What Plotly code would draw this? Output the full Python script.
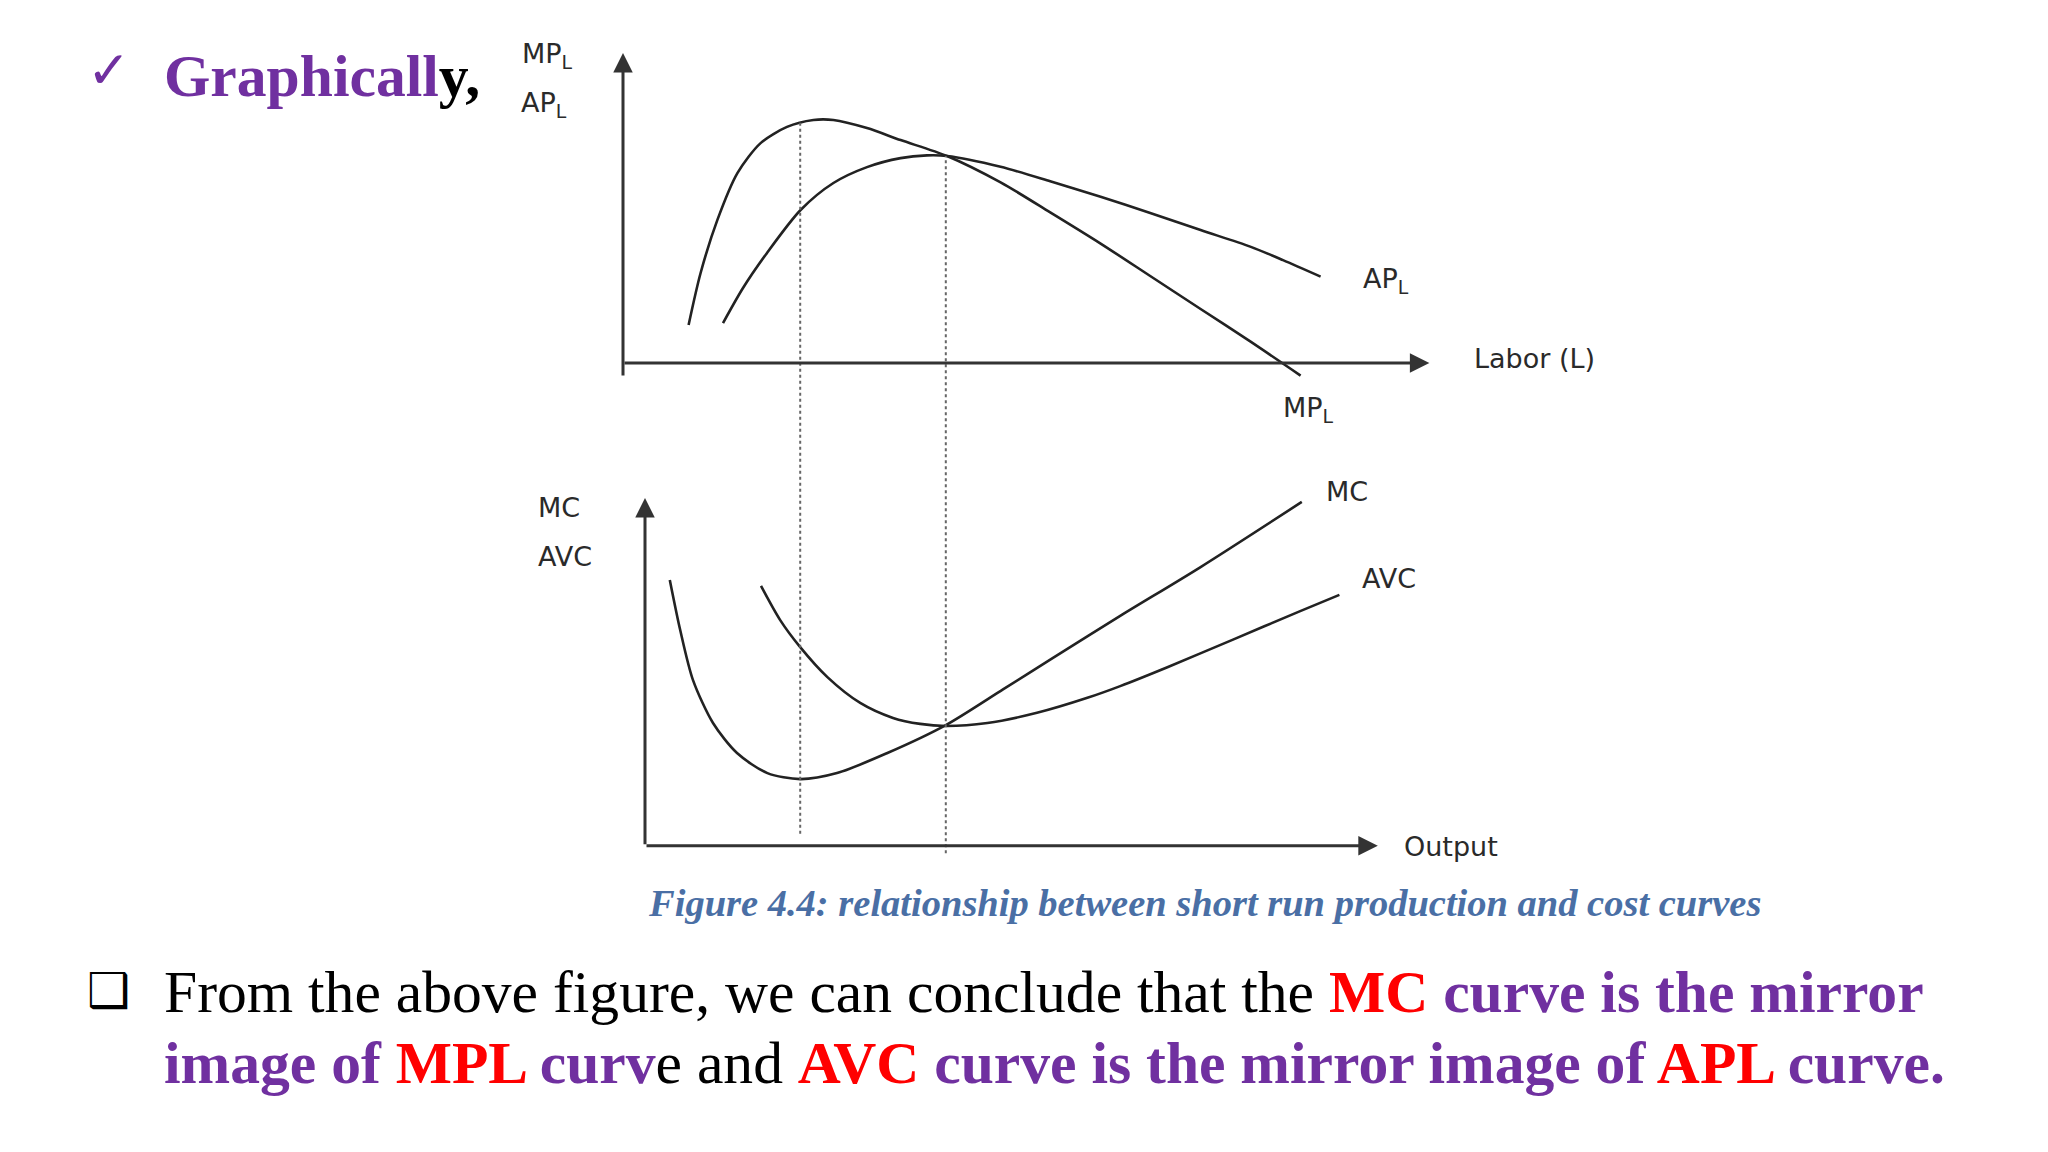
import plotly.graph_objects as go

# top panel: labor input vs. product of labor
labor_mp = [0.82, 0.97, 1.18, 1.43, 1.72, 2.05, 2.38, 2.63, 3.05, 3.47, 4.05, 4.72, 5.34, 5.97, 6.59, 7.22, 7.84, 8.47]
mp_l = [1.27, 3.00, 4.77, 6.33, 7.33, 7.87, 8.10, 8.10, 7.83, 7.43, 6.90, 6.02, 5.02, 3.98, 2.90, 1.80, 0.72, -0.42]
labor_ap = [1.25, 1.50, 1.80, 2.22, 2.63, 3.05, 3.47, 3.80, 4.05, 4.72, 5.34, 5.97, 6.59, 7.22, 7.84, 8.25, 8.72]
ap_l = [1.33, 2.50, 3.67, 5.10, 6.00, 6.53, 6.83, 6.92, 6.90, 6.54, 6.06, 5.54, 5.00, 4.43, 3.88, 3.43, 2.88]

# bottom panel: output vs. cost
output_mc = [0.31, 0.44, 0.60, 0.85, 1.15, 1.53, 1.94, 2.40, 3.03, 3.76, 4.48, 5.10, 5.94, 6.94, 8.21]
mc = [8.86, 7.19, 5.52, 4.09, 3.09, 2.42, 2.22, 2.42, 3.09, 4.02, 5.22, 6.26, 7.66, 9.28, 11.46]
output_avc = [1.45, 1.69, 1.94, 2.28, 2.69, 3.10, 3.44, 3.76, 4.28, 4.90, 5.53, 5.94, 6.53, 7.35, 8.19, 8.68]
avc = [8.66, 7.52, 6.62, 5.62, 4.76, 4.26, 4.06, 3.99, 4.09, 4.43, 4.93, 5.32, 5.95, 6.87, 7.82, 8.36]

# dotted guides: output position, top end (product units), bottom end (cost units)
guide_output = [1.94, 3.76]
guide_top_p = [8.10, 6.90]
guide_bottom_c = [0.40, -0.25]

# axis extents (data units)
top_x_end, top_y_end, top_y_start = 10.08, 10.33, -0.47
bot_x_end, bot_y_end = 9.16, 11.59

W, H = 2048, 1152
OFF_X, OFF_Y = 11, 8                 # page offset of the plot inside the browser window
SX, SY = 80, 30                      # px per data unit
TOP_X0, TOP_Y0 = 626 - OFF_X, 363 - OFF_Y
BOT_X0, BOT_Y0 = 648 - OFF_X, 845.7 - OFF_Y

PURPLE = "#7030A0"
RED = "#FF0000"
INK = "#222222"
LABEL_FONT = dict(family="DejaVu Sans", size=27, color="#2a2a2a")


def paper(x, y):
    return (x - OFF_X) / W, 1 - (y - OFF_Y) / H


fig = go.Figure()

curve = dict(color=INK, width=2.6, shape="spline", smoothing=0.8)
fig.add_trace(go.Scatter(x=labor_mp, y=mp_l, mode="lines", line=curve, xaxis="x", yaxis="y"))
fig.add_trace(go.Scatter(x=labor_ap, y=ap_l, mode="lines", line=curve, xaxis="x", yaxis="y"))
fig.add_trace(go.Scatter(x=output_mc, y=mc, mode="lines", line=curve, xaxis="x2", yaxis="y2"))
fig.add_trace(go.Scatter(x=output_avc, y=avc, mode="lines", line=curve, xaxis="x2", yaxis="y2"))

# guides run through both panels, drawn in the bottom panel's units
offset = (BOT_Y0 - TOP_Y0) / SY
for q, p_top, c_bot in zip(guide_output, guide_top_p, guide_bottom_c):
    fig.add_trace(go.Scatter(x=[q, q], y=[c_bot, p_top + offset], mode="lines",
                             line=dict(color="#666666", width=2, dash="dot"),
                             xaxis="x2", yaxis="y2"))

annotations = []


def arrow(x, y, ax, ay, xr, yr):
    annotations.append(dict(x=x, y=y, ax=ax, ay=ay, xref=xr, yref=yr, axref=xr, ayref=yr,
                            text="", showarrow=True, arrowhead=2, arrowsize=1.3,
                            arrowwidth=3, arrowcolor="#333333", standoff=0))


arrow(top_x_end, 0, 0, 0, "x", "y")
arrow(0, top_y_end, 0, top_y_start, "x", "y")
arrow(bot_x_end, 0, 0, 0, "x2", "y2")
arrow(0, bot_y_end, 0, 0, "x2", "y2")


def label(text, x, y, font=LABEL_FONT, xanchor="left"):
    xp, yp = paper(x, y)
    annotations.append(dict(text=text, x=xp, y=yp, xref="paper", yref="paper",
                            xanchor=xanchor, yanchor="middle", showarrow=False, font=font))


label("MP<sub>L</sub>", 523, 55)
label("AP<sub>L</sub>", 522, 105)
label("AP<sub>L</sub>", 1364, 280)
label("Labor (L)", 1475, 358)
label("MP<sub>L</sub>", 1284, 410)
label("MC", 539, 507)
label("AVC", 539, 556)
label("MC", 1327, 492)
label("AVC", 1363, 578)
label("Output", 1405, 846)

label("<b><i>Figure 4.4: relationship between short run production and cost curves</i></b>", 649, 903,
      font=dict(family="Liberation Serif", size=38.5, color="#4a6fa5"))

serif = dict(family="Liberation Serif", size=59.6, color="black")
label("✓", 88, 70, font=dict(family="DejaVu Sans", size=52, color=PURPLE))
label(f"<b><span style='color:{PURPLE}'>Graphicall</span>y,</b>", 165, 76, font=serif)

label("❑", 88, 990, font=dict(family="DejaVu Sans", size=48, color="black"))


def b(text, color):
    return f"<b><span style='color:{color}'>{text}</span></b>"


line1 = ("From the above figure, we can conclude that the "
         + b("MC", RED) + b(" curve is the mirror", PURPLE))
line2 = (b("image of ", PURPLE) + b("MPL", RED) + b(" curv", PURPLE) + "e and "
         + b("AVC", RED) + b(" curve is the mirror image of ", PURPLE)
         + b("APL", RED) + b(" curve.", PURPLE))
label(line1, 165, 992, font=serif)
label(line2, 165, 1063, font=serif)

hidden = dict(visible=False, showgrid=False, zeroline=False, fixedrange=True)
fig.update_layout(
    width=W, height=H,
    margin=dict(l=0, r=0, t=0, b=0),
    paper_bgcolor="white", plot_bgcolor="white",
    showlegend=False,
    xaxis=dict(hidden, domain=[0, 1], range=[-TOP_X0 / SX, (W - TOP_X0) / SX]),
    yaxis=dict(hidden, domain=[0, 1], range=[(TOP_Y0 - H) / SY, TOP_Y0 / SY]),
    xaxis2=dict(hidden, overlaying="x", anchor="y2", range=[-BOT_X0 / SX, (W - BOT_X0) / SX]),
    yaxis2=dict(hidden, overlaying="y", anchor="x2", range=[(BOT_Y0 - H) / SY, BOT_Y0 / SY]),
    annotations=annotations,
)

fig.write_html("out.html")
